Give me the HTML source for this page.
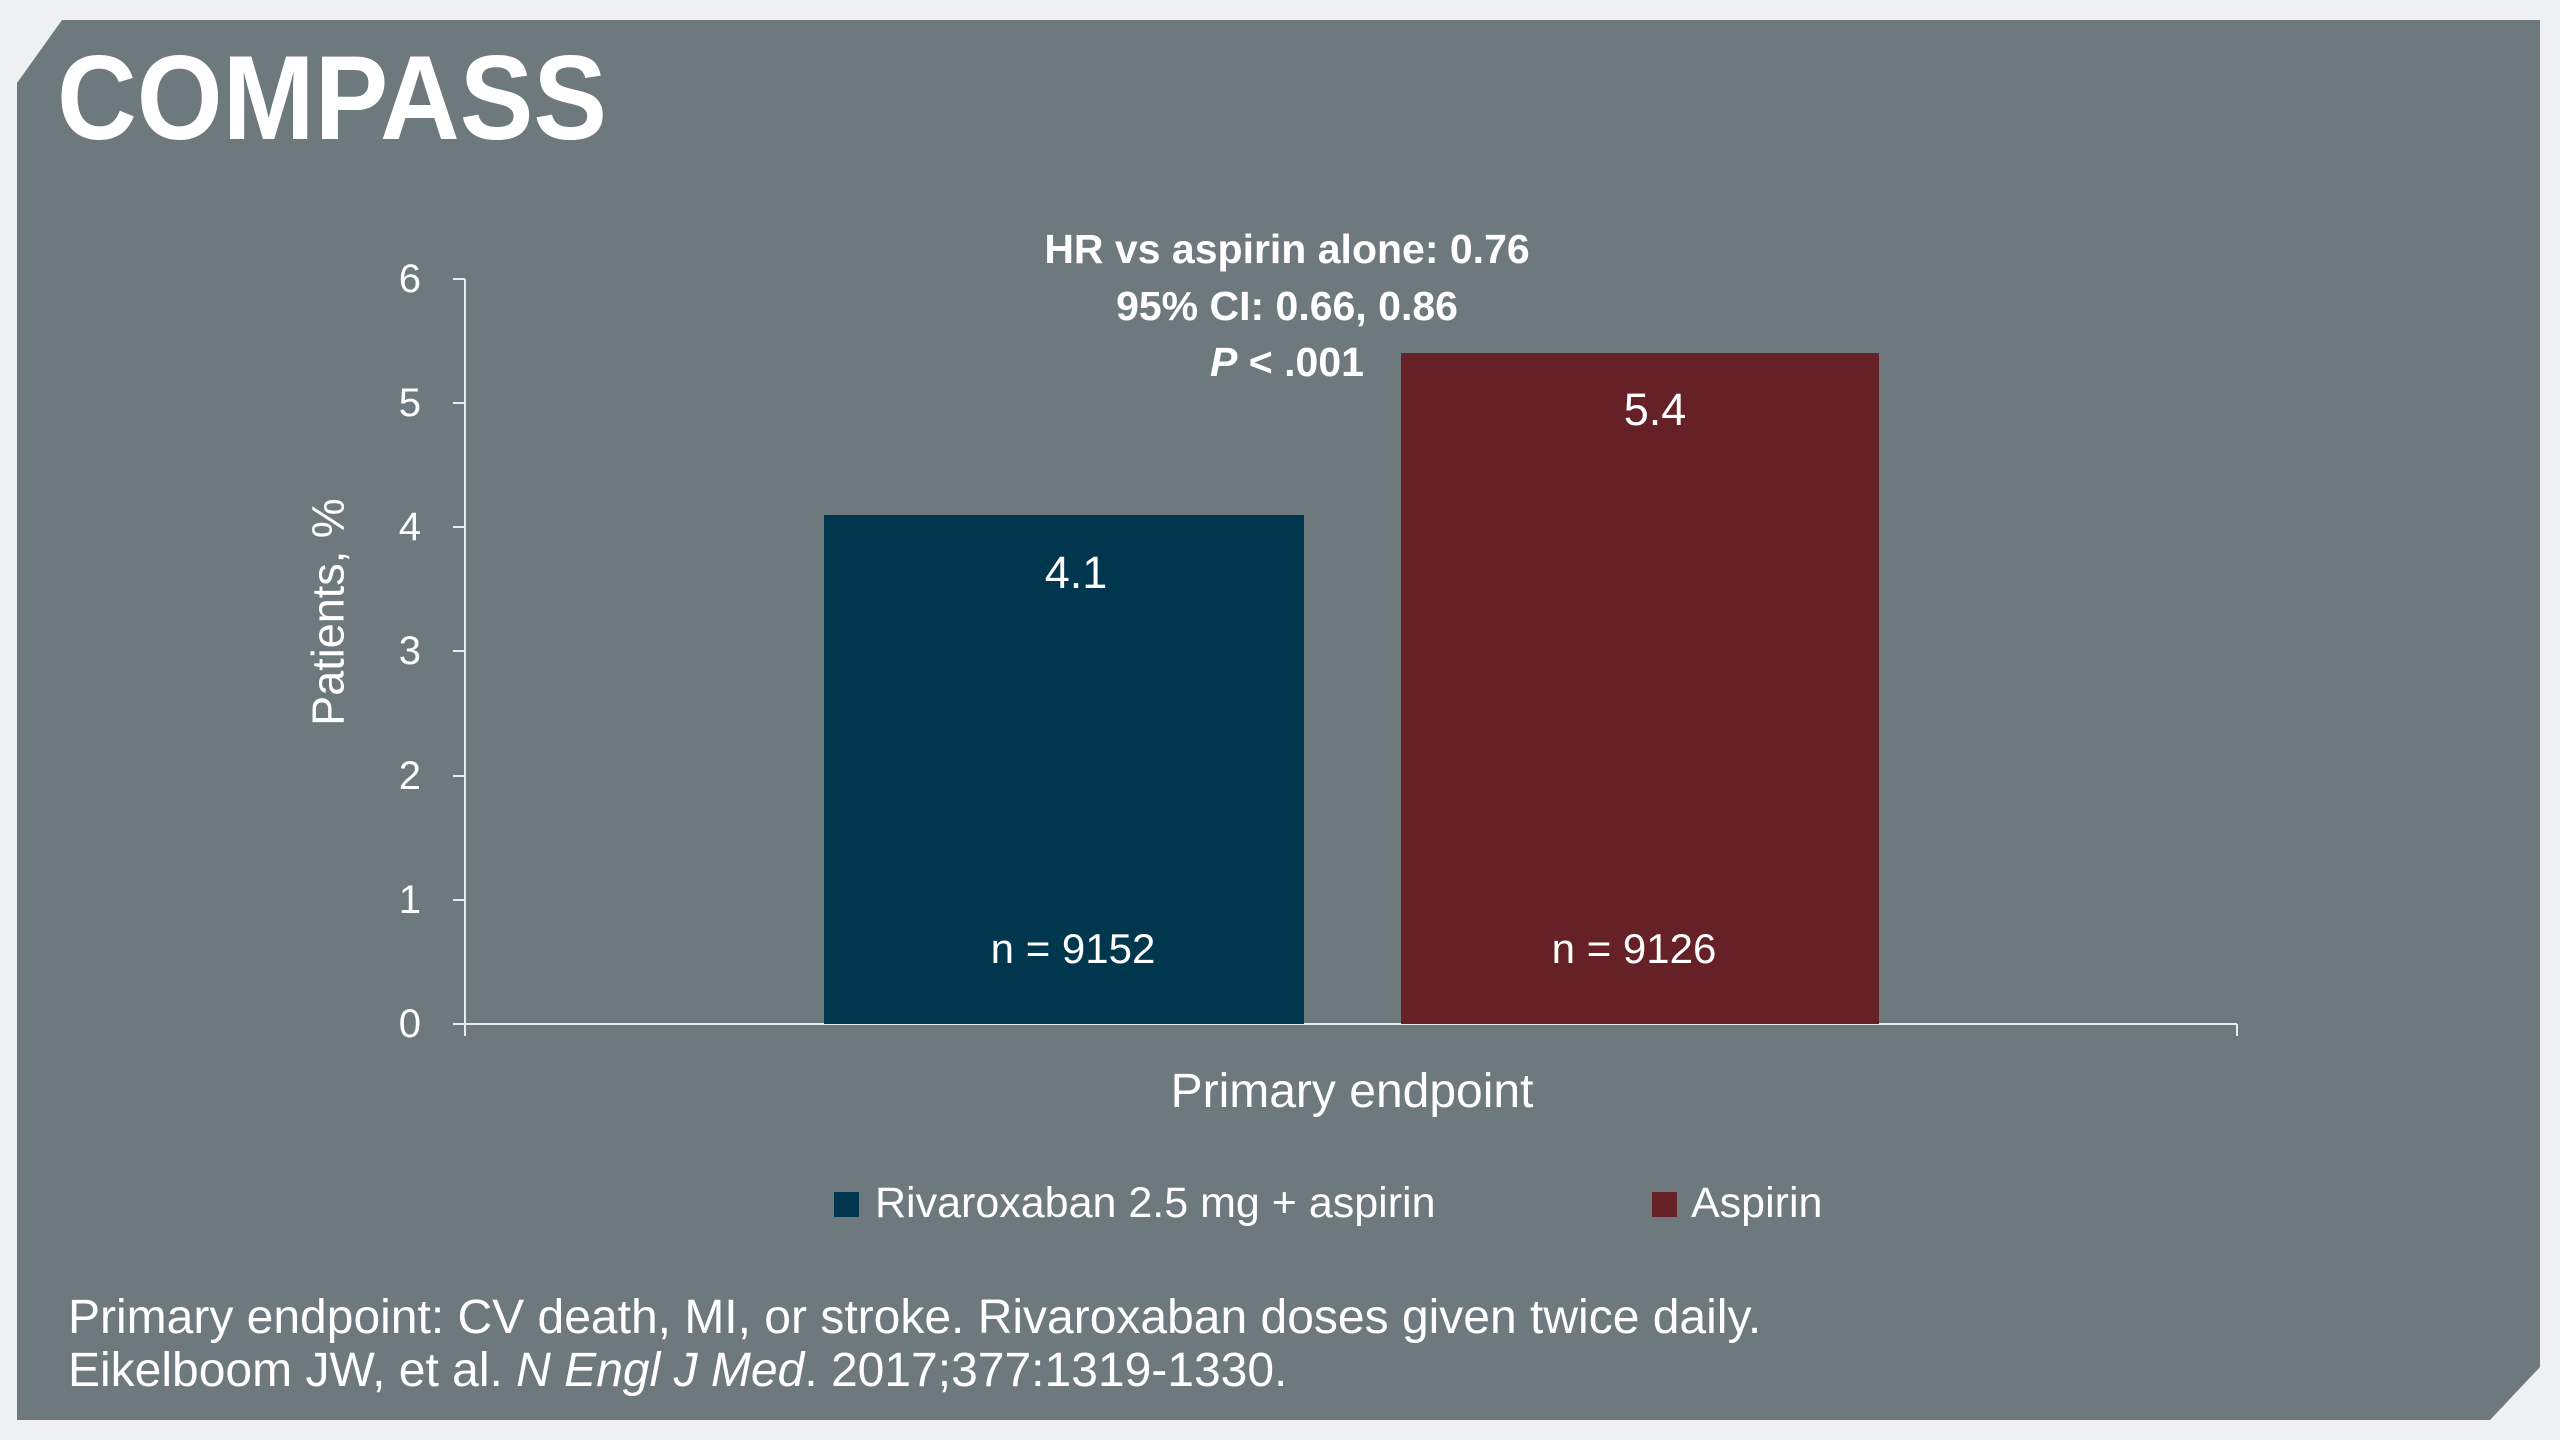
<!DOCTYPE html>
<html><head><meta charset="utf-8"><style>
html,body{margin:0;padding:0}
body{width:2560px;height:1440px;position:relative;overflow:hidden;background:#eef0f1;font-family:"Liberation Sans",sans-serif;color:#fff}
.t{position:absolute;white-space:nowrap;line-height:1}
.c{transform:translateX(-50%)}
</style></head><body>
<svg style="position:absolute;left:0;top:0" width="2560" height="1440">
<polygon points="62,20 2540,20 2540,1367 2490,1420 17,1420 17,83" fill="#6d797c"/>
<line x1="465" y1="279" x2="465" y2="1024" stroke="#e8ecec" stroke-width="2"/>
<line x1="465" y1="1024" x2="2237" y2="1024" stroke="#e8ecec" stroke-width="2"/>
<line x1="2237" y1="1024" x2="2237" y2="1036" stroke="#e8ecec" stroke-width="2"/>
<line x1="465" y1="1024" x2="465" y2="1036" stroke="#e8ecec" stroke-width="2"/>
<g stroke="#e8ecec" stroke-width="2">
<line x1="453" y1="279" x2="465" y2="279"/><line x1="453" y1="403" x2="465" y2="403"/>
<line x1="453" y1="527" x2="465" y2="527"/><line x1="453" y1="651" x2="465" y2="651"/>
<line x1="453" y1="776" x2="465" y2="776"/><line x1="453" y1="900" x2="465" y2="900"/>
<line x1="453" y1="1024" x2="465" y2="1024"/></g>
<rect x="824" y="515" width="480" height="509" fill="#00374f"/>
<rect x="1401" y="353" width="478" height="671" fill="#662126"/>
<rect x="834" y="1192" width="25" height="25" fill="#00374f"/>
<rect x="1652" y="1192" width="25" height="25" fill="#662126"/>
</svg>
<div class="t" style="left:57px;top:38px;font-size:120px;font-weight:bold;transform:scaleX(0.92);transform-origin:left">COMPASS</div>
<div class="t" style="left:381px;top:259px;font-size:40px;width:40px;text-align:right">6</div>
<div class="t" style="left:381px;top:383px;font-size:40px;width:40px;text-align:right">5</div>
<div class="t" style="left:381px;top:507px;font-size:40px;width:40px;text-align:right">4</div>
<div class="t" style="left:381px;top:631px;font-size:40px;width:40px;text-align:right">3</div>
<div class="t" style="left:381px;top:756px;font-size:40px;width:40px;text-align:right">2</div>
<div class="t" style="left:381px;top:880px;font-size:40px;width:40px;text-align:right">1</div>
<div class="t" style="left:381px;top:1004px;font-size:40px;width:40px;text-align:right">0</div>
<div class="t" style="left:328px;top:612px;font-size:45px;transform:translate(-50%,-50%) rotate(-90deg)">Patients, %</div>
<div class="t c" style="left:1287px;top:229px;font-size:41px;font-weight:bold">HR vs aspirin alone: 0.76</div>
<div class="t c" style="left:1287px;top:286px;font-size:41px;font-weight:bold">95% CI: 0.66, 0.86</div>
<div class="t c" style="left:1287px;top:342px;font-size:41px;font-weight:bold"><i>P</i> &lt; .001</div>
<div class="t c" style="left:1076px;top:550px;font-size:45px">4.1</div>
<div class="t c" style="left:1655px;top:387px;font-size:45px">5.4</div>
<div class="t c" style="left:1073px;top:928px;font-size:42px">n = 9152</div>
<div class="t c" style="left:1634px;top:928px;font-size:42px">n = 9126</div>
<div class="t c" style="left:1352px;top:1068px;font-size:48px">Primary endpoint</div>
<div class="t" style="left:875px;top:1182px;font-size:43px">Rivaroxaban 2.5 mg + aspirin</div>
<div class="t" style="left:1691px;top:1182px;font-size:43px">Aspirin</div>
<div class="t" style="left:68px;top:1294px;font-size:48px">Primary endpoint: CV death, MI, or stroke. Rivaroxaban doses given twice daily.</div>
<div class="t" style="left:68px;top:1347px;font-size:48px">Eikelboom JW, et al. <i>N Engl J Med</i>. 2017;377:1319-1330.</div>
</body></html>
